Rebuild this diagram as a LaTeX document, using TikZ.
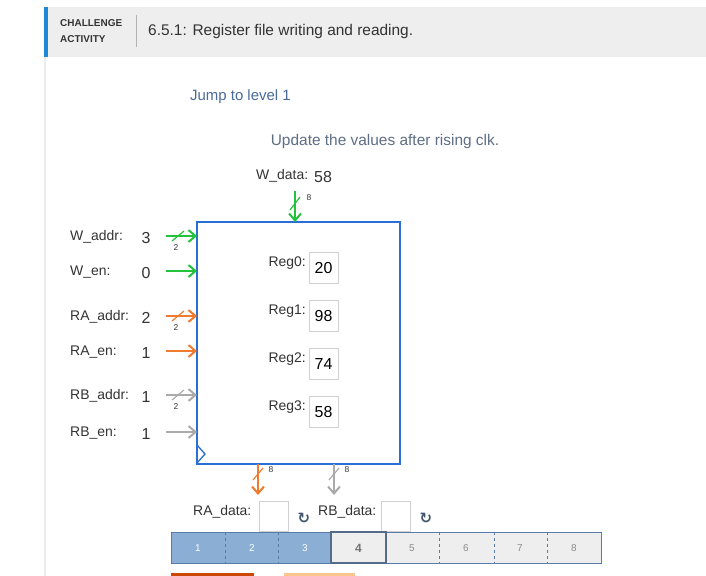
\documentclass[tikz,border=0pt]{standalone}
\usepackage{fontspec}
\setmainfont{Liberation Sans}
\newfontfamily\symfont{DejaVu Sans}
\usetikzlibrary{arrows.meta}
\definecolor{hdr}{HTML}{EEEEEE}
\definecolor{bbar}{HTML}{1E88D8}
\definecolor{boxb}{HTML}{2A6FD6}
\definecolor{grn}{HTML}{22C33A}
\definecolor{org}{HTML}{F07A2E}
\definecolor{gry}{HTML}{AAAAAA}
\definecolor{lnk}{HTML}{4A6A9A}
\definecolor{upc}{HTML}{5E6E84}
\definecolor{seg}{HTML}{8AAED4}
\definecolor{segb}{HTML}{5A7BA8}
\definecolor{cur}{HTML}{556B8A}
\definecolor{txt}{HTML}{333333}
\tikzset{
  lbl/.style={anchor=west,font=\fontsize{14}{16}\selectfont,text=txt,inner sep=0},
  val/.style={anchor=center,font=\fontsize{16}{18}\selectfont,text=txt,inner sep=0},
  regl/.style={anchor=east,font=\fontsize{14}{16}\selectfont,text=txt,inner sep=0},
  regbox/.style={draw=black!18,minimum width=29,minimum height=31,inner sep=0,font=\fontsize{16}{18}\selectfont},
  sig/.style={line width=2,-{Straight Barb[length=7,width=12,line width=2]}},
  tiny/.style={font=\fontsize{8.5}{9}\selectfont,text=txt,inner sep=0},
  segtxt/.style={font=\fontsize{10}{11}\selectfont,inner sep=0},
  reload/.style={font=\symfont\bfseries\fontsize{15}{17}\selectfont,text=cur!80!black,inner sep=0}
}
\begin{document}
\begin{tikzpicture}[x=1bp,y=-1bp]
\useasboundingbox (0,0) rectangle (706,576);
\fill[white] (0,0) rectangle (706,576);
% header
\fill[hdr] (44,7) rectangle (706,57);
\fill[bbar] (44,7) rectangle (48,57);
\draw[black!30,line width=1] (136,15) -- (136,47);
\draw[black!8,line width=1.5] (45,57) -- (45,576);
\node[anchor=west,font=\bfseries\fontsize{10}{11}\selectfont,text=txt,inner sep=0] (ch) at (60,23) {CHALLENGE};
\node[anchor=west,font=\bfseries\fontsize{10}{11}\selectfont,text=txt,inner sep=0] (ac) at (60,39) {ACTIVITY};
\node[anchor=west,font=\fontsize{15.5}{17}\selectfont,text=txt,inner sep=0] (title) at (148,32) {6.5.1: Register file writing and reading.};
\node[anchor=west,font=\fontsize{15}{17}\selectfont,text=lnk,inner sep=0] (jump) at (190,97) {Jump to level 1};
\node[font=\fontsize{15.5}{17}\selectfont,text=upc,inner sep=0] (upd) at (385,142) {Update the values after rising clk.};
% W_data
\node[lbl] (wdl) at (256,176) {W\_data:};
\node[val,anchor=west] (wdv) at (314,177) {58};
% box
\draw[boxb,line width=1.3] (197,222) rectangle (400,464);
\coordinate (btop) at (295,222);
\draw[boxb,line width=1.3] (197,445) -- (205,454) -- (197,463);
\draw[sig,grn] (295,191) -- (btop);
\draw[grn,line width=1.2] (290,210) -- (300,197);
\node[tiny] (w8) at (309,198) {8};
% inputs
\foreach \n/\y/\v/\c/\bus in {W\_addr:/236/3/grn/1, W\_en:/271/0/grn/0, RA\_addr:/316/2/org/1, RA\_en:/351/1/org/0, RB\_addr:/395/1/gry/1, RB\_en:/432/1/gry/0}{
  \node[lbl] at (70,\y+1) {\n};
  \node[val] at (146,\y+2) {\v};
  \draw[sig,\c] (166,\y) -- (197,\y);
  \ifnum\bus=1
    \draw[\c,line width=1.2] (172,\y+5) -- (184,\y-5);
    \node[tiny] at (176,\y+12) {2};
  \fi
}
% registers
\foreach \i/\y/\v in {0/262/20,1/310/98,2/358/74,3/406/58}{
  \node[regl] (r\i) at (306,\y+1) {Reg\i:};
  \node[regbox] (rv\i) at (323.5,\y+6) {\v};
}
% outputs
\coordinate (oa) at (258,464);
\coordinate (ob) at (334,464);
\draw[sig,org] (oa) -- (258,495);
\draw[org,line width=1.2] (253,480) -- (263,468);
\node[tiny] (a8) at (271,470) {8};
\draw[sig,gry] (ob) -- (334,495);
\draw[gry,line width=1.2] (329,480) -- (339,468);
\node[tiny] (b8) at (347,470) {8};
\node[lbl] (rad) at (193,512) {RA\_data:};
\node[draw=black!18,minimum width=29,minimum height=30,inner sep=0] (rab) at (274,516) {};
\node[reload] (ra) at (304,518) {↻};
\node[lbl] (rbd) at (318,512) {RB\_data:};
\node[draw=black!18,minimum width=29,minimum height=30,inner sep=0] (rbb) at (396,516) {};
\node[reload] (rb) at (426,518) {↻};
% progress bar
\fill[seg] (171,532) rectangle (331,563);
\fill[hdr] (331,532) rectangle (601,563);
\draw[segb,line width=1] (171,532) rectangle (601,563);
\foreach \x in {225,278,439,494,547}{\draw[segb,dashed,line width=0.7] (\x,532) -- (\x,563);}
\foreach \i/\x in {1/198,2/252,3/305}{\node[segtxt,text=white] at (\x,548) {\i};}
\foreach \i/\x in {5/412,6/466,7/520,8/574}{\node[segtxt,text=black!45] at (\x,548) {\i};}
\draw[cur,line width=2.5] (331,532) rectangle (386,563);
\node[font=\bfseries\fontsize{12}{13}\selectfont,text=black!55,inner sep=0] (s4) at (358.5,548) {4};
\fill[orange!70!red!80!black] (171,573) rectangle (254,576);
\fill[orange!45] (284,573) rectangle (355,576);
\end{tikzpicture}
\end{document}
